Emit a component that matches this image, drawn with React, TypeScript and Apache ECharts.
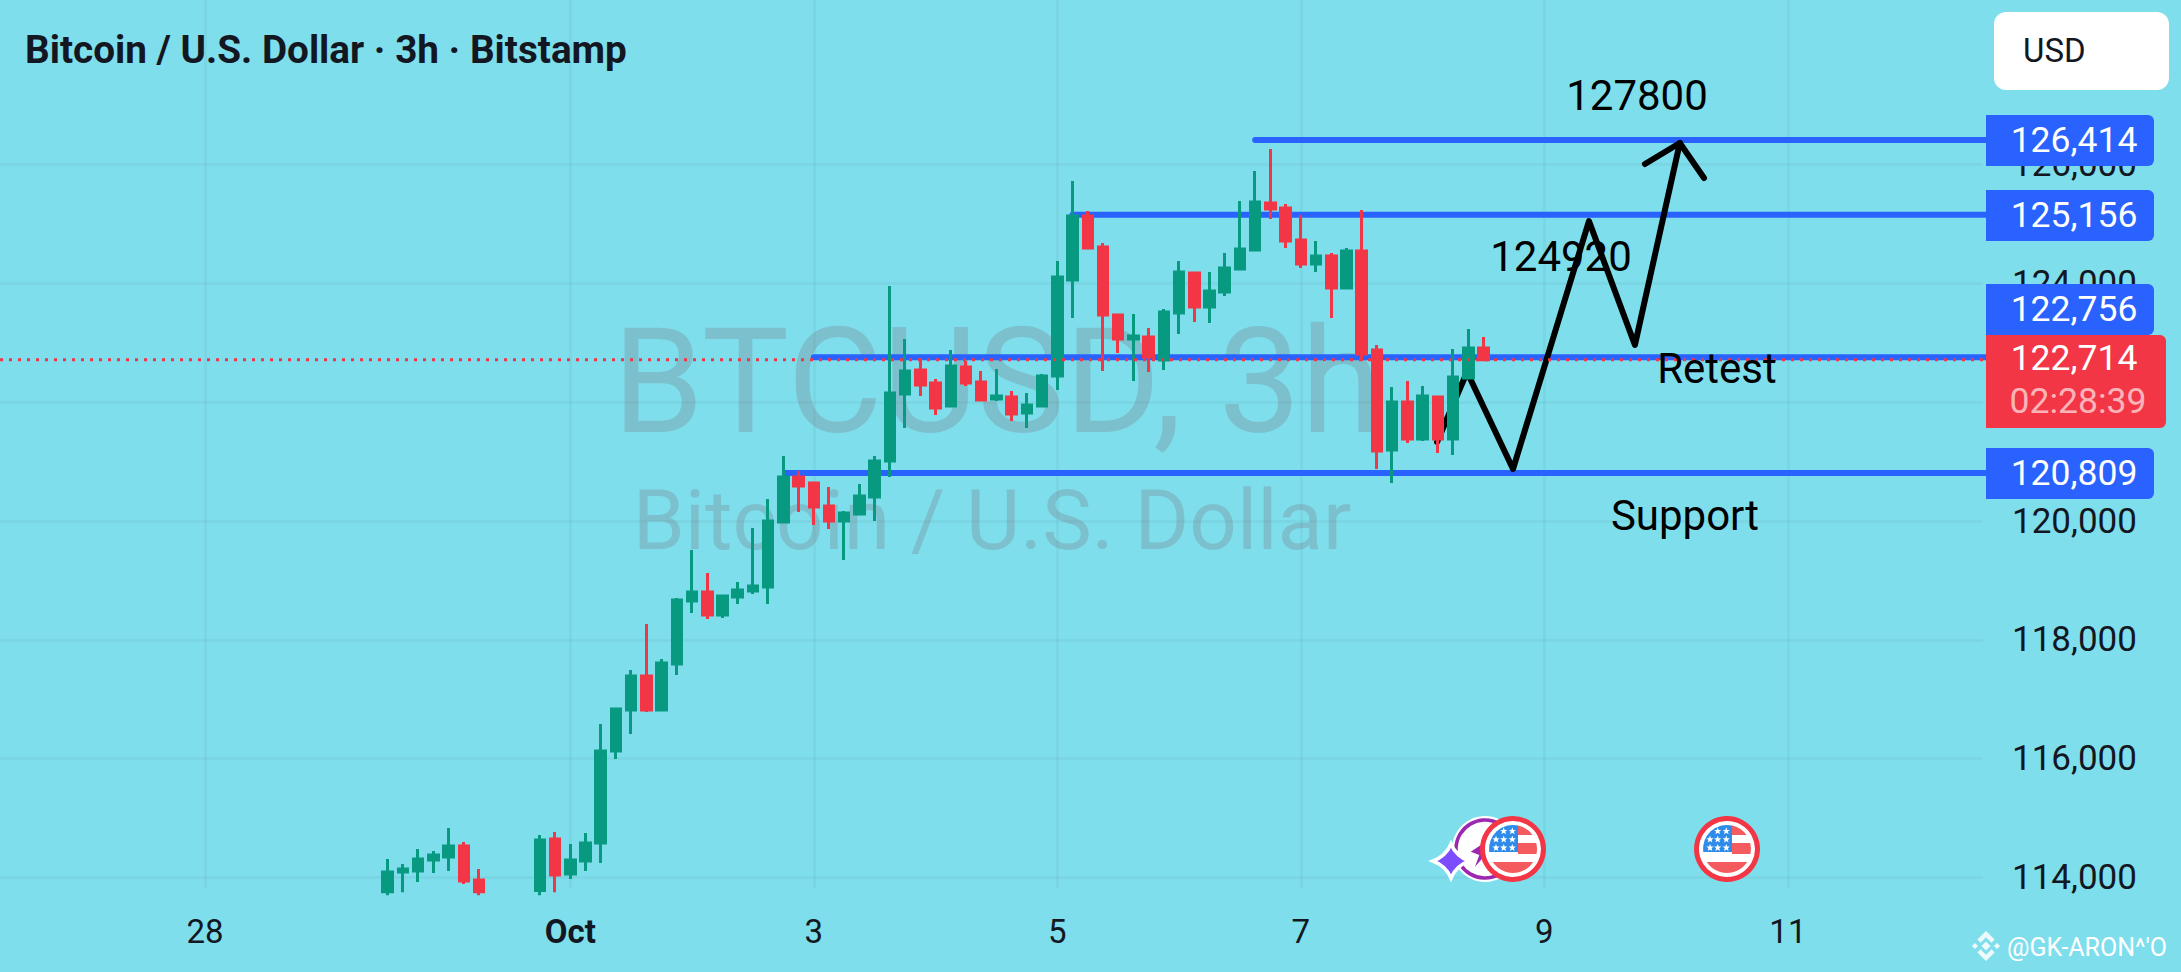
import React, { useEffect, useRef } from "react";
import * as echarts from "echarts";

const barIndex = [-12,-11,-10,-9,-8,-7,-6,-2,-1,0,1,2,3,4,5,6,7,8,9,10,11,12,13,14,15,16,17,18,19,20,21,22,23,24,25,26,27,28,29,30,31,32,33,34,35,36,37,38,39,40,41,42,43,44,45,46,47,48,49,50,51,52,53,54,55,56,57,58,59,60];
const opens = [113760,114091,114108,114293,114343,114529,113956,113780,114646,114057,114276,114579,116128,116818,117391,116818,117593,118653,118805,118418,118721,118822,118889,119983,120741,120640,120253,120000,120118,120404,121010,122138,122542,122323,121936,122593,122340,122054,122088,121818,121936,122441,124057,125135,124613,123468,123064,123098,122710,123502,124175,123603,123855,124242,124562,125354,125269,124731,124327,124461,123923,124545,122879,121195,122003,121380,122088,121380,122407,122912];
const closes = [114091,114141,114310,114377,114529,113939,113760,114630,114040,114293,114579,116128,116835,117391,116818,117609,118670,118805,118418,118737,118838,118906,120000,120741,120589,120236,120000,120135,120421,121010,122155,122525,122290,121902,122609,122323,122037,122104,121801,121953,122441,124108,125135,124596,123468,123064,123114,122761,123519,124192,123603,123872,124259,124579,125370,125253,124714,124327,124461,123923,124545,122811,121178,122003,121380,122104,121380,122424,122912,122714];
const lows = [113700,113750,113923,114074,114108,113889,113700,113700,113750,113973,114108,114242,115993,116414,116785,116818,117407,118451,118350,118367,118603,118771,118603,119983,120152,119933,119865,119343,120101,120000,120741,121566,122104,121785,121919,122273,122037,122020,121684,121566,121936,122205,123418,124579,122525,122828,122357,122508,122542,123148,123350,123333,123788,124226,124562,125084,124596,124259,124192,123418,123923,122694,120875,120640,121313,121347,121145,121111,122407,122714];
const highs = [114310,114226,114478,114444,114832,114596,114141,114714,114764,114562,114747,116582,116835,117492,118266,117677,118704,119512,119125,118754,118973,119882,120370,121094,120842,120657,120572,120168,120623,121094,123956,123064,122744,122391,122879,122694,122525,122559,122189,122155,122475,124377,125724,125219,124680,123468,123485,123249,123569,124377,124175,124192,124512,125387,125892,126263,125337,125152,124714,124512,124596,125236,122963,122256,122357,122273,122088,122896,123232,123098];

const xTickBars = [-24, 0, 16, 32, 48, 64, 80];
const xTickLabels = ["28", "Oct", "3", "5", "7", "9", "11"];
const yTicks = [114000, 116000, 118000, 120000, 122000, 124000, 126000];

const levelPrices = [126414, 125156, 122756, 120809];
const levelStartBars = [45.0, 33.0, 16.0, 14.1];
const lastPrice = 122714;
const countdown = "02:28:39";

const zigzagBars = [56.95, 58.92, 61.94, 66.93, 69.95, 72.9];
const zigzagPrices = [121330, 122508, 120875, 125050, 122963, 126364];
const arrowBars = [70.61, 72.9, 74.49];
const arrowPrices = [126010, 126364, 125774];

const fmt = (v: number) => v.toLocaleString("en-US");

const FONT = "Roboto, sans-serif";
const BG = "#7FDEEC";
const GREEN = "#089981";
const RED = "#F23645";
const BLUE = "#2962FF";
const INK = "#131722";
const GRID = "rgba(42,46,57,0.045)";
const WM = "rgba(120,123,134,0.3)";

echarts.graphic.registerShape("flagCanton", echarts.graphic.extendPath("M5 3 L-23.8 3 A24 24 0 0 1 5 -23.5 Z", {}));
echarts.graphic.registerShape("flagStripes", echarts.graphic.extendPath("M5 -23.5 A24 24 0 0 1 19.5 -14 L5 -14 Z M5 -6 L23.2 -6 A24 24 0 0 1 23.5 5 L5 5 Z M-20.2 13 L20.2 13 A24 24 0 0 1 -20.2 13 Z", {}));
echarts.graphic.registerShape("flagStar", echarts.graphic.extendPath("M0 -3.8 L1 -1.1 L3.6 -1.1 L1.6 0.6 L2.3 3.2 L0 1.7 L-2.3 3.2 L-1.6 0.6 L-3.6 -1.1 L-1 -1.1 Z", {}));
echarts.graphic.registerShape("sparkle", echarts.graphic.extendPath("M0 -17 Q5 -5 18 0 Q5 5 0 17 Q-5 5 -18 0 Q-5 -5 0 -17 Z", {}));
echarts.graphic.registerShape("binanceMark", echarts.graphic.extendPath("M0 -4.6 L4.6 0 L0 4.6 L-4.6 0 Z M-11 -3.1 L-7.9 0 L-11 3.1 L-14.1 0 Z M11 -3.1 L14.1 0 L11 3.1 L7.9 0 Z M0 -15 L8.6 -6.4 L5.5 -3.2 L0 -8.8 L-5.5 -3.2 L-8.6 -6.4 Z M0 15 L-8.6 6.4 L-5.5 3.2 L0 8.8 L5.5 3.2 L8.6 6.4 Z", {}));

const flag = (cx: number, cy: number) => {
  const stars = [[-9.3, -18], [-0.7, -18], [-17, -9.7], [-9.3, -9.7], [-0.7, -9.7], [-17, -1.3], [-9.3, -1.3], [-0.7, -1.3]];
  return {
    type: "group", x: cx, y: cy, z: 60, silent: true,
    children: [
      { type: "circle", z: 60, shape: { cx: 0, cy: 0, r: 30.5 }, style: { fill: "#FFFFFF", stroke: RED, lineWidth: 5 } },
      { type: "flagStripes", z: 61, style: { fill: "#F45B5F" } },
      { type: "flagCanton", z: 61, style: { fill: "#2E8BEA" } },
      ...stars.map(([x, y]) => ({ type: "flagStar", x, y, z: 62, style: { fill: "#FFFFFF" } })),
    ],
  };
};

const badge = (y: number, h: number, color: string, w: number) => ({
  type: "rect", z: 50, silent: true,
  shape: { x: 1986, y, width: w, height: h, r: [0, 6, 6, 0] },
  style: { fill: color },
});
const label = (text: string, x: number, y: number, font: string, fill: string, align = "center", z = 70) => ({
  type: "text", x, y, z, silent: true,
  style: { text, fill, font, textAlign: align, textVerticalAlign: "middle" },
});

export default function App() {
  const ref = useRef<HTMLDivElement | null>(null);

  useEffect(() => {
    document.body.style.margin = "0";
    document.body.style.overflow = "hidden";
    const chart = echarts.init(ref.current!, null, { renderer: "svg" });

    const xMin = -37.47;
    const xMax = 92.82;
    const candles = barIndex.map((b, i) => [b, opens[i], closes[i], lows[i], highs[i]]);
    const big = `400 42px ${FONT}`;
    const tag = `400 35.5px ${FONT}`;

    const levelSeries = levelPrices.map((p, i) => ({
      type: "line", name: fmt(p), z: 3, silent: true, symbol: "none", animation: false,
      data: [[levelStartBars[i], p], [xMax + 2, p]],
      lineStyle: { color: BLUE, width: 6, cap: "round" },
    }));

    chart.setOption({
      animation: false,
      backgroundColor: BG,
      title: {
        text: "Bitcoin / U.S. Dollar · 3h · Bitstamp",
        left: 20, top: 25,
        textStyle: { fontFamily: FONT, fontWeight: 700, fontSize: 38.7, color: INK },
      },
      grid: { left: 0, top: 0, width: 1983, height: 888, containLabel: false },
      xAxis: {
        type: "value", min: xMin, max: xMax,
        axisLine: { show: false },
        axisTick: { show: false, customValues: xTickBars },
        splitLine: { show: true, lineStyle: { color: GRID, width: 3 } },
        axisLabel: {
          customValues: xTickBars,
          margin: 27,
          fontFamily: FONT, fontSize: 33, color: INK,
          formatter: (v: number) => {
            const t = xTickLabels[xTickBars.indexOf(v)] ?? "";
            return t === "Oct" ? `{b|${t}}` : t;
          },
          rich: { b: { fontFamily: FONT, fontSize: 33, fontWeight: 700, color: INK } },
        },
      },
      yAxis: {
        type: "value", position: "right", min: 113822, max: 128771, scale: true,
        axisLine: { show: false },
        axisTick: { show: false, customValues: yTicks },
        splitLine: { show: true, lineStyle: { color: GRID, width: 3 } },
        axisLabel: {
          customValues: yTicks,
          margin: 29, align: "left", padding: [0, 0, 9, 0],
          fontFamily: FONT, fontSize: 35, color: INK,
          formatter: (v: number) => fmt(v),
        },
      },
      series: [
        ...levelSeries,
        {
          type: "line", name: "path", z: 4, silent: true, symbol: "none", animation: false,
          data: zigzagBars.map((b, i) => [b, zigzagPrices[i]]),
          lineStyle: { color: "#000000", width: 6, cap: "round", join: "round" },
        },
        {
          type: "line", name: "arrow", z: 4, silent: true, symbol: "none", animation: false,
          data: arrowBars.map((b, i) => [b, arrowPrices[i]]),
          lineStyle: { color: "#000000", width: 6, cap: "round", join: "round" },
        },
        {
          type: "candlestick", name: "BTCUSD", z: 5, silent: true, clip: true, animation: false,
          barWidth: 10,
          data: candles,
          itemStyle: { color: GREEN, color0: RED, borderColor: GREEN, borderColor0: RED, borderWidth: 3 },
        },
        {
          type: "line", name: "last", z: 6, silent: true, symbol: "none", animation: false,
          data: [[xMin, lastPrice], [xMax, lastPrice]],
          lineStyle: { color: RED, width: 3, type: [3, 6] },
        },
      ],
      graphic: [
        label("BTCUSD, 3h", 997, 382, `400 146.5px ${FONT}`, WM, "center", 1),
        label("Bitcoin / U.S. Dollar", 992, 520, `400 83.5px ${FONT}`, WM, "center", 1),

        label("127800", 1637, 95, big, "#000000"),
        label("124920", 1561, 256, big, "#000000"),
        label("Retest", 1717, 368, big, "#000000"),
        label("Support", 1685, 515, big, "#000000"),

        {
          type: "rect", z: 50, silent: true,
          shape: { x: 1994, y: 12, width: 175, height: 78, r: 12 },
          style: { fill: "#FFFFFF" },
        },
        label("USD", 2023, 50, `400 33px ${FONT}`, INK, "left"),

        badge(115, 51, BLUE, 168), label(fmt(levelPrices[0]), 2074, 140, tag, "#FFFFFF"),
        badge(190, 51, BLUE, 168), label(fmt(levelPrices[1]), 2074, 215, tag, "#FFFFFF"),
        badge(284, 51, BLUE, 168), label(fmt(levelPrices[2]), 2074, 309, tag, "#FFFFFF"),
        badge(335, 93, RED, 180),
        label(fmt(lastPrice), 2074, 358, tag, "#FFFFFF"),
        label(countdown, 2078, 401, tag, "rgba(255,255,255,0.65)"),
        badge(448, 51, BLUE, 168), label(fmt(levelPrices[3]), 2074, 473, tag, "#FFFFFF"),

        { type: "circle", z: 55, silent: true, shape: { cx: 1485, cy: 849, r: 30 }, style: { fill: "#FFFFFF", stroke: "#FFFFFF", lineWidth: 6 } },
        { type: "circle", z: 56, silent: true, shape: { cx: 1485, cy: 849, r: 29 }, style: { fill: "#FFFFFF", stroke: "#9C27B0", lineWidth: 3.5 } },
        {
          type: "polygon", z: 57, silent: true,
          shape: { points: [[1470.7, 851.7], [1485, 842.3], [1481.7, 851.7], [1488.3, 851.7], [1475, 866.7], [1479.3, 855]] },
          style: { fill: "#9C27B0" },
        },
        { type: "sparkle", x: 1451, y: 861, z: 58, silent: true, style: { fill: "#7C4DFF", stroke: "#FFFFFF", lineWidth: 3.5 } },
        flag(1513, 849),
        flag(1727, 849),

        { type: "binanceMark", x: 1986, y: 946, z: 70, silent: true, style: { fill: "rgba(255,255,255,0.85)" } },
        label("@GK-ARON^'O", 2007, 947, `400 25px ${FONT}`, "#FFFFFF", "left"),
      ],
    });

    return () => chart.dispose();
  }, []);

  return <div ref={ref} style={{ position: "absolute", left: 0, top: 0, width: 2181, height: 972 }} />;
}
